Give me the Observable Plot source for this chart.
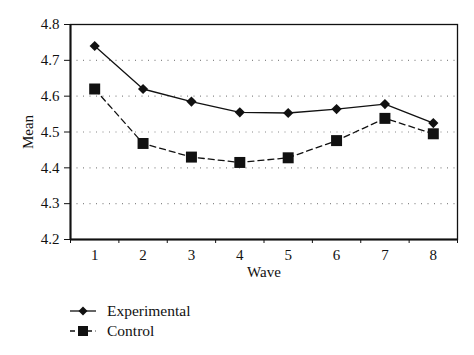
<!DOCTYPE html>
<html><head><meta charset="utf-8">
<script src="https://cdn.jsdelivr.net/npm/d3@7"></script>
<script src="https://cdn.jsdelivr.net/npm/@observablehq/plot@0.6"></script>
<style>
body{margin:0;background:#fff;font-family:"Liberation Serif","DejaVu Serif",serif;}
#legend{position:relative;margin-left:70px;margin-top:11px;font-size:15.5px;color:#111;}
.row{display:flex;align-items:center;height:20px;}
.row svg{margin-right:11px;}
</style></head>
<body><div id="chart"></div><div id="legend"></div>
<script>
const waves = [1,2,3,4,5,6,7,8];
const experimental = [4.74,4.62,4.585,4.555,4.553,4.564,4.578,4.525];
const control = [4.62,4.468,4.43,4.415,4.428,4.476,4.538,4.495];
const yTicks = [4.2,4.3,4.4,4.5,4.6,4.7,4.8];
const gridTicks = [4.3,4.4,4.5,4.6,4.7];
const seriesNames = ["Experimental","Control"];

const data = [];
waves.forEach((w,i)=>{
  data.push({wave:w, value:experimental[i], series:seriesNames[0]});
  data.push({wave:w, value:control[i], series:seriesNames[1]});
});
const exp = data.filter(d=>d.series===seriesNames[0]);
const ctl = data.filter(d=>d.series===seriesNames[1]);
const bounds = [0.5, ...waves.map(w=>w+0.5)];

const chart = Plot.plot({
  width:474, height:290,
  marginLeft:70, marginRight:17, marginTop:24, marginBottom:51,
  style:{fontFamily:"'Liberation Serif','DejaVu Serif',serif", fontSize:"15px", color:"#111", background:"#fff"},
  x:{type:"linear", domain:[0.5,8.5]},
  y:{domain:[4.2,4.8]},
  marks:[
    Plot.ruleY(gridTicks,{stroke:"#888", strokeWidth:1.2, strokeDasharray:"1,5.5"}),
    Plot.frame({stroke:"#111", strokeWidth:1.3}),
    Plot.ruleX([0.5],{stroke:"#111", strokeWidth:2}),
    Plot.ruleY([4.2],{stroke:"#111", strokeWidth:2}),
    Plot.axisY({ticks:yTicks, tickFormat:d3.format(".1f"), tickSize:6, tickPadding:5, label:"Mean", labelAnchor:"center", labelArrow:"none", labelOffset:48, fontSize:15}),
    Plot.axisX({ticks:bounds, tickFormat:()=>"", tickSize:4, label:null}),
    Plot.axisX({ticks:waves, tickFormat:d3.format("d"), tickSize:0, tickPadding:10, label:"Wave", labelAnchor:"center", labelArrow:"none", labelOffset:37, fontSize:15}),
    Plot.line(exp,{x:"wave", y:"value", stroke:"#111", strokeWidth:1.3}),
    Plot.line(ctl,{x:"wave", y:"value", stroke:"#111", strokeWidth:1.3, strokeDasharray:"6,4"}),
    Plot.dot(exp,{x:"wave", y:"value", symbol:"diamond2", r:4.6, fill:"#111", stroke:"none"}),
    Plot.dot(ctl,{x:"wave", y:"value", symbol:"square", r:6.2, fill:"#111", stroke:"none"})
  ]
});
document.getElementById("chart").appendChild(chart);

const legend = document.getElementById("legend");
const sw = [
  `<svg width="26" height="14"><line x1="0" x2="26" y1="7" y2="7" stroke="#111" stroke-width="1.3"/><path d="M13,2.5L17.5,7L13,11.5L8.5,7Z" fill="#111"/></svg>`,
  `<svg width="26" height="14"><line x1="0" x2="26" y1="7" y2="7" stroke="#111" stroke-width="1.3" stroke-dasharray="5,3.5"/><rect x="8" y="2" width="10" height="10" fill="#111"/></svg>`
];
seriesNames.forEach((n,i)=>{
  const r = document.createElement("div"); r.className="row";
  r.innerHTML = sw[i] + `<span>${n}</span>`;
  legend.appendChild(r);
});
</script></body></html>
